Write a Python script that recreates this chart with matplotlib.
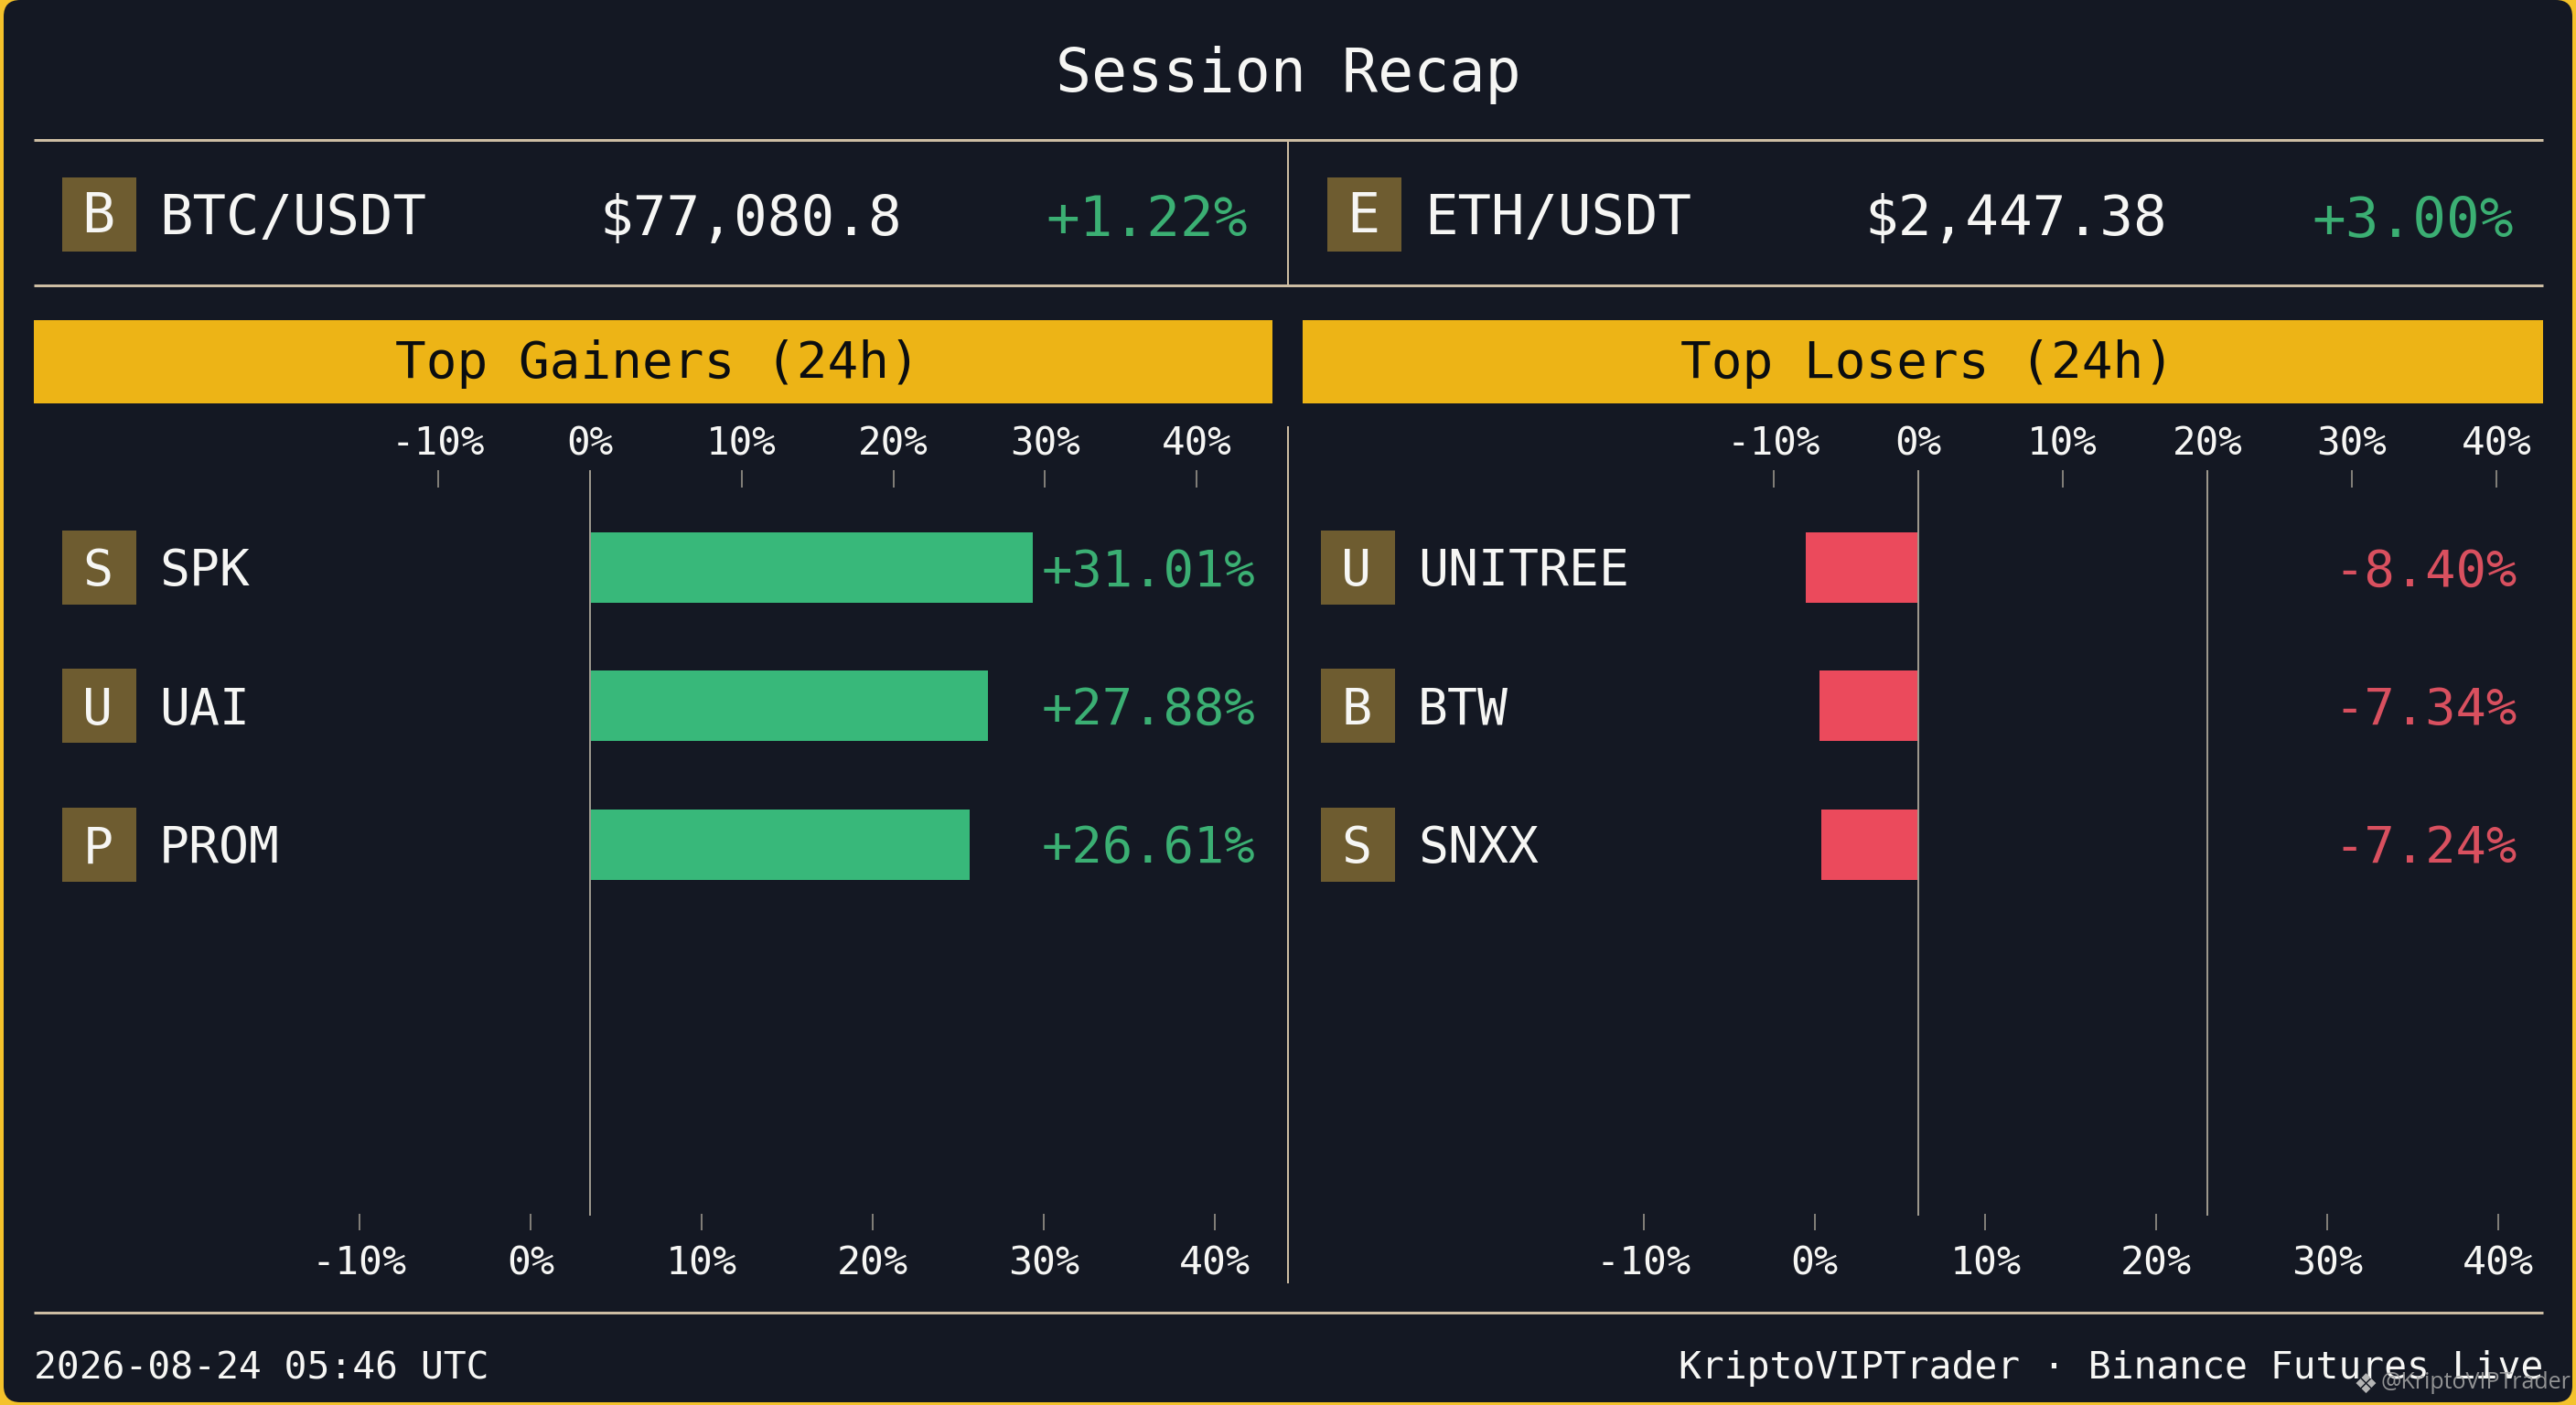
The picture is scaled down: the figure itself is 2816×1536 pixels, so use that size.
import matplotlib
matplotlib.use("Agg")
import matplotlib.pyplot as plt
from matplotlib.patches import Rectangle, FancyBboxPatch
from matplotlib.transforms import blended_transform_factory

# ---- data ----
TITLE = "Session Recap"
PAIRS = ["BTC/USDT", "ETH/USDT"]
PRICES = ["$77,080.8", "$2,447.38"]
PAIR_CHANGES = ["+1.22%", "+3.00%"]
GAINERS = ["SPK", "UAI", "PROM"]
GAINER_VALUES = [31.01, 27.88, 26.61]
LOSERS = ["UNITREE", "BTW", "SNXX"]
LOSER_VALUES = [-8.40, -7.34, -7.24]
TICKS = [-10, 0, 10, 20, 30, 40]
FOOT_LEFT = "2026-08-24 05:46 UTC"
FOOT_RIGHT = "KriptoVIPTrader · Binance Futures Live"

# ---- style ----
W, H = 2816, 1536
BG = "#141823"
GOLD = "#EDB416"
EDGE = "#F4C22B"
LINE = "#CDBDA3"
THIN = "#9C978C"
BADGE = "#6E5C30"
WHITE = "#F6F6F4"
GREEN = "#38B87A"
GREEN_T = "#3BAF73"
RED = "#EB4A5C"
RED_T = "#D9505F"
INK = "#0B0D10"
MONO = "DejaVu Sans Mono"


def pts(px):
    return px * 72 / 100


plt.rcParams["font.family"] = MONO
fig = plt.figure(figsize=(W / 100, H / 100), dpi=100, facecolor=EDGE)

base = fig.add_axes([0, 0, 1, 1], zorder=0)
base.set_xlim(0, W)
base.set_ylim(H, 0)
base.axis("off")
base.add_patch(FancyBboxPatch((4, 0), W - 8, H - 3, boxstyle="round,pad=0,rounding_size=18",
                              fc=BG, ec="none"))


def hline(y):
    base.plot([37, 2780], [y, y], color=LINE, lw=pts(3), solid_capstyle="butt")


def vline(x, y0, y1):
    base.plot([x, x], [y0, y1], color=LINE, lw=pts(2), solid_capstyle="butt")


def label(x, y, s, size, color=WHITE, ha="left", transform=None):
    return base.text(x, y, s, fontsize=pts(size), color=color, ha=ha, va="center",
                     transform=transform or base.transData, zorder=6)


label(1408, 82, TITLE, 65, ha="center")
hline(153)
hline(312)
hline(1435)
vline(1408, 153, 312)
vline(1408, 466, 1403)

# quote strip
for i, (x_badge, x_name, x_price, x_chg) in enumerate(
        [(68, 174, 655, 1364), (1451, 1557, 2038, 2748)]):
    base.add_patch(Rectangle((x_badge, 194), 81, 81, fc=BADGE, ec="none", zorder=4))
    label(x_badge + 39, 238, PAIRS[i][0], 60, ha="center")
    label(x_name, 240, PAIRS[i], 60.6)
    label(x_price, 240, PRICES[i], 61)
    label(x_chg, 242, PAIR_CHANGES[i], 61, color=GREEN_T, ha="right")

# panels: pixel extents and per-panel scale calibrations
PANELS = [
    dict(title="Top Gainers (24h)", x0=37, x1=1391, names=GAINERS, values=GAINER_VALUES,
         bar_zero=645, bar_scale=15.6, top_zero=645, top_scale=16.58,
         bot_zero=580, bot_scale=18.7, bar_c=GREEN, text_c=GREEN_T, x_badge=68, x_name=174,
         x_val=1372, lines=[0]),
    dict(title="Top Losers (24h)", x0=1424, x1=2780, names=LOSERS, values=LOSER_VALUES,
         bar_zero=2096, bar_scale=14.55, top_zero=2096.7, top_scale=15.81,
         bot_zero=1983.5, bot_scale=18.68, bar_c=RED, text_c=RED_T, x_badge=1444, x_name=1550,
         x_val=2752, lines=[0, 20]),
]
Y_TOP, Y_BOT = 514, 1329
ROW0, ROW_STEP = 620.3, 151.6
TEXT_DROP = 5 / ROW_STEP  # monospace glyphs sit a little high of the row centre

for p in PANELS:
    x0, x1 = p["x0"], p["x1"]
    base.add_patch(Rectangle((x0, 350), x1 - x0, 91, fc=GOLD, ec="none", zorder=3))
    label((x0 + x1) / 2 + 5, 398, p["title"], 56, color=INK, ha="center")

    rect = [x0 / W, 1 - Y_BOT / H, (x1 - x0) / W, (Y_BOT - Y_TOP) / H]

    # bars
    ax = fig.add_axes(rect, zorder=2, facecolor="none")
    ax.set_xlim((x0 - p["bar_zero"]) / p["bar_scale"], (x1 - p["bar_zero"]) / p["bar_scale"])
    rows = list(range(len(p["names"])))
    ax.set_ylim((Y_BOT - ROW0) / ROW_STEP, (Y_TOP - ROW0) / ROW_STEP)
    ax.barh(rows, p["values"], height=77 / ROW_STEP, color=p["bar_c"], linewidth=0, zorder=2)
    ax.axis("off")

    tr = blended_transform_factory(base.transData, ax.transData)
    for r, name, v in zip(rows, p["names"], p["values"]):
        base.add_patch(Rectangle((p["x_badge"], ROW0 + r * ROW_STEP - 40.5), 81, 81,
                                 fc=BADGE, ec="none", zorder=4))
        label(p["x_badge"] + 39, r + TEXT_DROP, name[0], 55, ha="center", transform=tr)
        label(p["x_name"], r + TEXT_DROP, name, 54.8, transform=tr)
        label(p["x_val"], r + TEXT_DROP, f"{v:+.2f}%", 55.5, color=p["text_c"], ha="right",
              transform=tr)

    # top scale, with its tall reference lines
    top = fig.add_axes(rect, zorder=3, facecolor="none")
    top.set_xlim((x0 - p["top_zero"]) / p["top_scale"], (x1 - p["top_zero"]) / p["top_scale"])
    top.set_ylim(0, 1)
    top.set_yticks([])
    for s in top.spines.values():
        s.set_visible(False)
    top.xaxis.tick_top()
    top.set_xticks(TICKS, [f"{t}%" for t in TICKS])
    top.tick_params(axis="x", direction="in", length=pts(19), width=pts(1.6), color=THIN,
                    labelcolor=WHITE, labelsize=pts(42.5), pad=pts(8))
    for v in p["lines"]:
        top.axvline(v, color=THIN, lw=pts(2))

    # bottom scale
    bot = fig.add_axes([x0 / W, 1 - 1345 / H, (x1 - x0) / W, 18 / H], zorder=3, facecolor="none")
    bot.set_xlim((x0 - p["bot_zero"]) / p["bot_scale"], (x1 - p["bot_zero"]) / p["bot_scale"])
    bot.set_yticks([])
    for s in bot.spines.values():
        s.set_visible(False)
    bot.set_xticks(TICKS, [f"{t}%" for t in TICKS])
    bot.tick_params(axis="x", direction="in", length=pts(18), width=pts(1.6), color=THIN,
                    labelcolor=WHITE, labelsize=pts(43.3), pad=pts(15))

# footer
label(37, 1496, FOOT_LEFT, 41.4)
label(2780, 1496, FOOT_RIGHT, 41.4, ha="right")
# watermark
base.text(2599, 1514, "❖", fontsize=pts(30), color="#B5B5B5", ha="right", va="center",
          family="DejaVu Sans", zorder=7)
base.text(2603, 1512, "@KriptoVIPTrader", fontsize=pts(25), color="#A8A8A8", ha="left",
          va="center", family="Open Sans", alpha=0.85, zorder=7)

fig.savefig("out.png", dpi=100, facecolor=fig.get_facecolor())
